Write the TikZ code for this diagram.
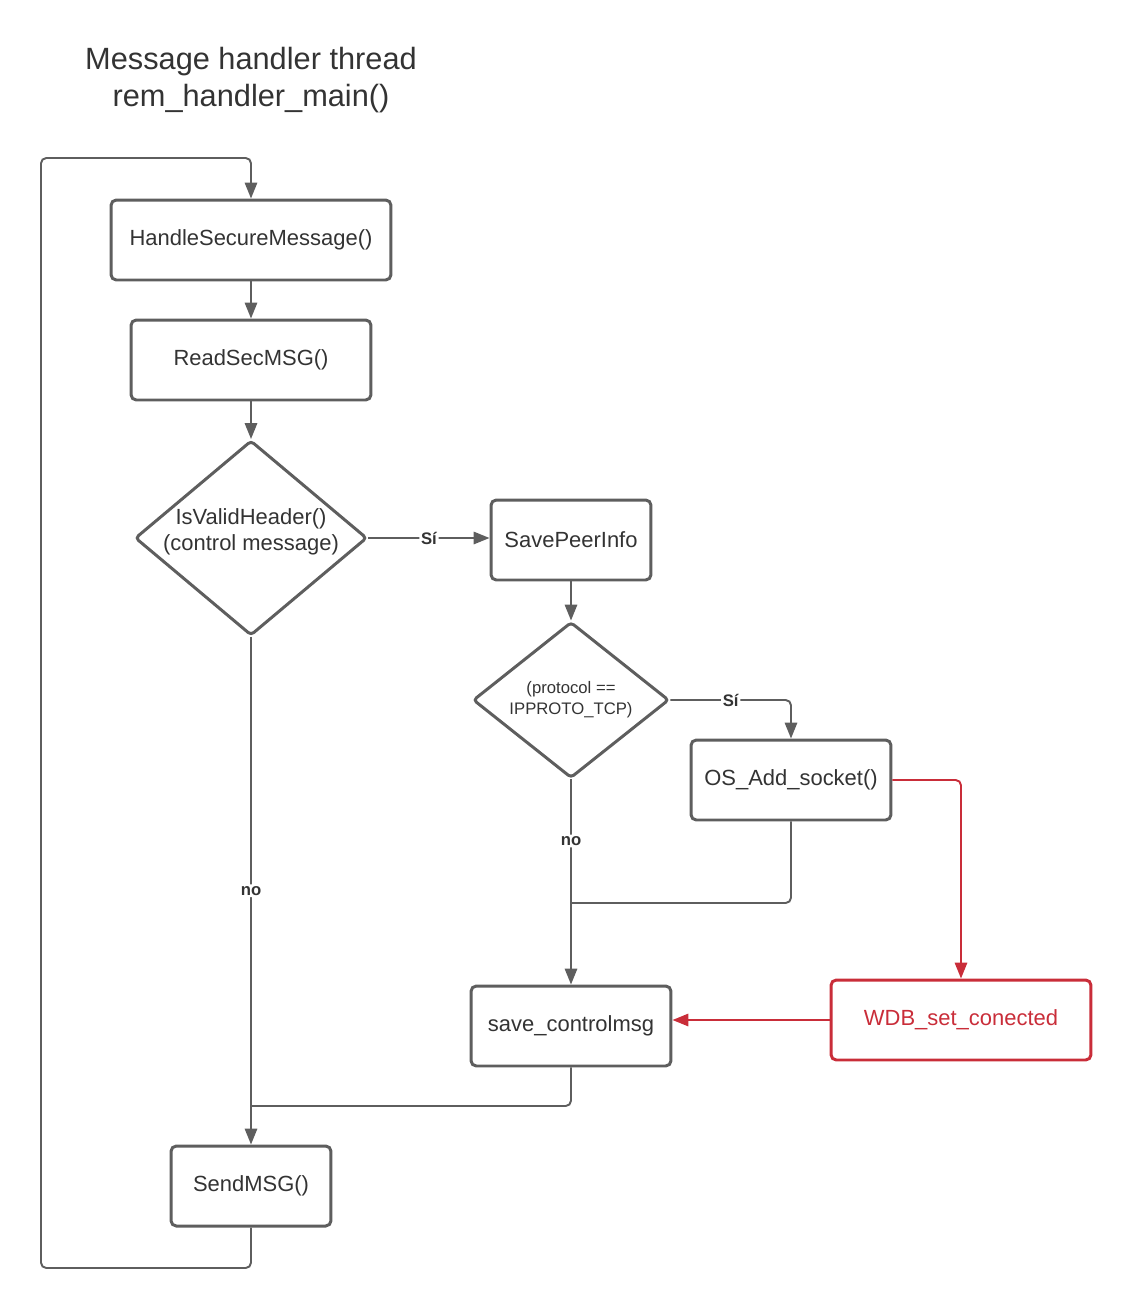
\documentclass[tikz,border=0pt]{standalone}
\usepackage{fontspec}
\setmainfont{Liberation Sans}
\usetikzlibrary{shapes.geometric,arrows.meta}
\definecolor{linegray}{HTML}{5E5E5E}
\definecolor{textgray}{HTML}{333333}
\definecolor{lucidred}{HTML}{C92D39}

\begin{document}
\begin{tikzpicture}[x=0.02cm,y=-0.02cm,
  func/.style={draw=linegray, line width=1.7pt, rounded corners=3pt, text=textgray, font=\fontsize{12.5pt}{15pt}\selectfont, minimum height=1.6cm, align=center},
  decision/.style={diamond, draw=linegray, line width=1.7pt, rounded corners=2pt, text=textgray, inner sep=0pt, align=center},
  flow/.style={draw, color=linegray, line width=1.1pt, rounded corners=3pt, -{Triangle[length=9pt,width=7pt]}},
  merge/.style={draw, color=linegray, line width=1.1pt, rounded corners=3pt},
  answer/.style={fill=white, inner sep=1pt, text=textgray, font=\bfseries\fontsize{9.5pt}{11pt}\selectfont}]
\useasboundingbox (0,0) rectangle (1131,1309);
\node[text=textgray, align=center, font=\fontsize{17.5pt}{21.5pt}\selectfont] (title) at (251,80) {Message handler thread\\rem\_handler\_main()};
\node[func, minimum width=5.6cm] (hsm) at (251,240) {HandleSecureMessage()};
\node[func, minimum width=4.8cm] (rsm) at (251,360) {ReadSecMSG()};
\node[decision, aspect=1.2, inner sep=-6pt, text depth=10pt, minimum width=4.64cm, minimum height=3.9cm, font=\fontsize{12.5pt}{15pt}\selectfont] (valid) at (251,538) {IsValidHeader()\\(control message)};
\node[func, minimum width=3.2cm] (peer) at (571,540) {SavePeerInfo};
\node[decision, aspect=1.26, minimum width=3.92cm, minimum height=3.12cm, font=\fontsize{9.5pt}{12pt}\selectfont] (tcp) at (571,700) {(protocol ==\\IPPROTO\_TCP)};
\node[func, minimum width=4cm] (sock) at (791,780) {OS\_Add\_socket()};
\node[func, minimum width=4cm] (ctrl) at (571,1026) {save\_controlmsg};
\node[func, minimum width=5.2cm, draw=lucidred, text=lucidred] (wdb) at (961,1020) {WDB\_set\_conected};
\node[func, minimum width=3.2cm] (send) at (251,1186) {SendMSG()};
\coordinate (mergeA) at (571,903);
\coordinate (mergeB) at (251,1106);
\coordinate (loopB) at (41,1268);
\coordinate (loopT) at (41,158);
\draw[flow] (hsm) -- (rsm);
\draw[flow] (rsm) -- (valid);
\draw[flow] (valid.east) -- node[answer] {Sí} (valid.east -| peer.west);
\draw[flow] (valid) -- node[answer] {no} (send);
\draw[flow] (peer) -- (tcp);
\draw[flow] (tcp.east) -| node[answer, pos=0.25] {Sí} (sock.north);
\draw[flow] (tcp) -- node[answer, pos=0.3] {no} (ctrl);
\draw[merge] (sock.south) |- (mergeA);
\draw[merge] (ctrl.south) |- (mergeB);
\draw[flow] (send.south) |- (loopB) -- (loopT) -| (hsm.north);
\draw[flow, color=lucidred] (sock.east) -| (wdb.north);
\draw[flow, color=lucidred] (wdb.west) -- (wdb.west -| ctrl.east);
\end{tikzpicture}
\end{document}
